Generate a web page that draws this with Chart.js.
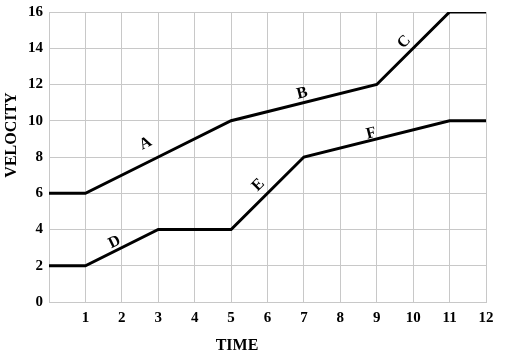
<!DOCTYPE html>
<html><head><meta charset="utf-8">
<script src="https://cdn.jsdelivr.net/npm/chart.js@4"></script>
<style>html,body{margin:0;padding:0;background:#fff}#wrap{width:515px;height:359px}</style>
</head><body><div id="wrap"><canvas id="c" width="515" height="359"></canvas></div>
<script>
const timeUpper = [0, 1, 3, 5, 9, 11, 12];
const velUpper = [6, 6, 8, 10, 12, 16, 16];
const timeLower = [0, 1, 3, 5, 7, 11, 12];
const velLower = [2, 2, 4, 4, 8, 10, 10];
const segLabels = ['A', 'B', 'C', 'D', 'E', 'F'];
const segLabelX = [2.65, 6.95, 9.75, 1.8, 5.75, 8.85];
const segLabelY = [8.75, 11.5, 14.35, 3.3, 6.45, 9.3];
const segSlope = [1, 0.5, 2, 1, 2, 0.5];
const xTitle = 'TIME';
const yTitle = 'VELOCITY';

const serif = '"Liberation Serif", "Times New Roman", serif';
const toPts = (xs, ys) => xs.map((x, i) => ({x: x, y: ys[i]}));

const labelPlugin = {
  id: 'labels',
  afterDatasetsDraw(chart) {
    const ctx = chart.ctx, xs = chart.scales.x, ys = chart.scales.y;
    ctx.save();
    ctx.fillStyle = '#000';
    ctx.font = 'bold 16px ' + serif;
    ctx.textAlign = 'center';
    ctx.textBaseline = 'middle';
    segLabels.forEach((t, i) => {
      const px = xs.getPixelForValue(segLabelX[i]);
      const py = ys.getPixelForValue(segLabelY[i]);
      const dx = xs.getPixelForValue(1) - xs.getPixelForValue(0);
      const dy = ys.getPixelForValue(segSlope[i]) - ys.getPixelForValue(0);
      ctx.save();
      ctx.translate(px, py);
      ctx.rotate(Math.atan2(dy, dx));
      ctx.fillText(t, 0, 0);
      ctx.restore();
    });
    // axis titles
    ctx.font = 'bold 16px ' + serif;
    ctx.fillText(xTitle, 237, 346);
    ctx.save();
    ctx.translate(12, 135);
    ctx.rotate(-Math.PI / 2);
    ctx.fillText(yTitle, 0, 0);
    ctx.restore();
    ctx.restore();
  }
};

new Chart(document.getElementById('c'), {
  type: 'line',
  data: {
    datasets: [
      {data: toPts(timeUpper, velUpper), borderColor: '#000', borderWidth: 3, pointRadius: 0, tension: 0, fill: false},
      {data: toPts(timeLower, velLower), borderColor: '#000', borderWidth: 3, pointRadius: 0, tension: 0, fill: false}
    ]
  },
  options: {
    responsive: false,
    animation: false,
    devicePixelRatio: 1,
    layout: {padding: {left: 0, top: 12, right: 29, bottom: 0}},
    plugins: {legend: {display: false}, tooltip: {enabled: false}},
    scales: {
      x: {
        type: 'linear', min: 0, max: 12,
        afterFit(s) { s.height = 57; s.paddingLeft = 0; s.paddingRight = 0; },
        grid: {color: '#c8c8c8', lineWidth: 1, drawTicks: false},
        border: {color: '#c8c8c8'},
        ticks: {stepSize: 1, padding: 7, color: '#000', font: {family: serif, size: 15, weight: 'bold'},
          callback: v => v === 0 ? '' : v}
      },
      y: {
        min: 0, max: 16,
        afterFit(s) { s.width = 49; s.paddingTop = 0; s.paddingBottom = 0; },
        grid: {color: '#c8c8c8', lineWidth: 1, drawTicks: false},
        border: {color: '#c8c8c8'},
        ticks: {stepSize: 2, padding: 6, color: '#000', font: {family: serif, size: 15, weight: 'bold'}}
      }
    }
  },
  plugins: [labelPlugin]
});
</script></body></html>
